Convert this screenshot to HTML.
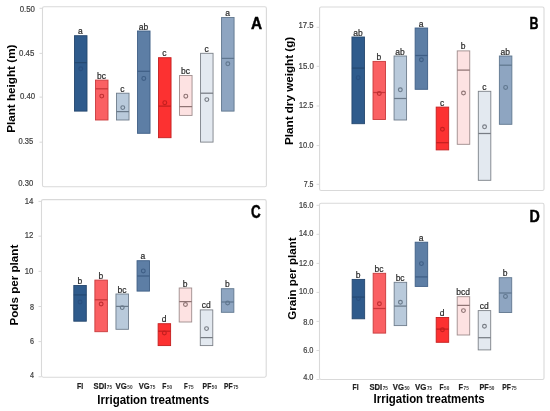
<!DOCTYPE html><html><head><meta charset="utf-8"><style>html,body{margin:0;padding:0;background:#fff;width:550px;height:411px;overflow:hidden}svg{display:block;filter:blur(0.3px)}text{font-family:"Liberation Sans", sans-serif}</style></head><body>
<svg width="550" height="411" viewBox="0 0 550 411">
<rect width="550" height="411" fill="#fff"/>
<g>
<rect x="42.5" y="6.8" width="223.9" height="180" rx="1.6" fill="none" stroke="#d9d9d9" stroke-width="1.1"/>
<line x1="39.5" x2="42.5" y1="8.3" y2="8.3" stroke="#d9d9d9" stroke-width="1"/>
<text x="19.65" y="12.25" font-size="8.8" fill="#3f3f3f" stroke="#3f3f3f" stroke-width="0.22" textLength="15.2" lengthAdjust="spacingAndGlyphs">0.50</text>
<line x1="39.5" x2="42.5" y1="53.4" y2="53.4" stroke="#d9d9d9" stroke-width="1"/>
<text x="19.05" y="55.85" font-size="8.8" fill="#3f3f3f" stroke="#3f3f3f" stroke-width="0.22" textLength="15.3" lengthAdjust="spacingAndGlyphs">0.45</text>
<line x1="39.5" x2="42.5" y1="97.1" y2="97.1" stroke="#d9d9d9" stroke-width="1"/>
<text x="19.95" y="98.75" font-size="8.8" fill="#3f3f3f" stroke="#3f3f3f" stroke-width="0.22" textLength="15.2" lengthAdjust="spacingAndGlyphs">0.40</text>
<line x1="39.5" x2="42.5" y1="142.2" y2="142.2" stroke="#d9d9d9" stroke-width="1"/>
<text x="18.55" y="144.25" font-size="8.8" fill="#3f3f3f" stroke="#3f3f3f" stroke-width="0.22" textLength="14.7" lengthAdjust="spacingAndGlyphs">0.35</text>
<text x="18.25" y="186.15" font-size="8.8" fill="#3f3f3f" stroke="#3f3f3f" stroke-width="0.22" textLength="14.9" lengthAdjust="spacingAndGlyphs">0.30</text>
<rect x="74.5" y="35.7" width="12.5" height="75.4" fill="#2f5b8c" stroke="#25476e" stroke-width="0.9"/>
<line x1="74.5" x2="87" y1="62.6" y2="62.6" stroke="#254a72" stroke-width="1.25"/>
<circle cx="80.75" cy="68.8" r="1.9" fill="none" stroke="#2a5080" stroke-width="1.15"/>
<text x="80.45" y="34.2" font-size="8.5" fill="#2a2a2a" stroke="#2a2a2a" stroke-width="0.2" text-anchor="middle">a</text>
<rect x="95.51" y="80.1" width="12.5" height="39.9" fill="#fa6063" stroke="#c93a3c" stroke-width="0.9"/>
<line x1="95.51" x2="108.01" y1="88.8" y2="88.8" stroke="#c8373a" stroke-width="1.25"/>
<circle cx="101.76" cy="96.1" r="1.9" fill="none" stroke="#c02f32" stroke-width="1.15"/>
<text x="101.46" y="78.6" font-size="8.5" fill="#2a2a2a" stroke="#2a2a2a" stroke-width="0.2" text-anchor="middle">bc</text>
<rect x="116.52" y="93.2" width="12.5" height="26.8" fill="#b9cadb" stroke="#6f7d8c" stroke-width="0.9"/>
<line x1="116.52" x2="129.02" y1="111.6" y2="111.6" stroke="#6a7a8a" stroke-width="1.25"/>
<circle cx="122.77" cy="107.6" r="1.9" fill="none" stroke="#6a7a8a" stroke-width="1.15"/>
<text x="122.47" y="91.7" font-size="8.5" fill="#2a2a2a" stroke="#2a2a2a" stroke-width="0.2" text-anchor="middle">c</text>
<rect x="137.53" y="31" width="12.5" height="102.3" fill="#5d7ea5" stroke="#3f5f86" stroke-width="0.9"/>
<line x1="137.53" x2="150.03" y1="71.3" y2="71.3" stroke="#3f5f86" stroke-width="1.25"/>
<circle cx="143.78" cy="78.4" r="1.9" fill="none" stroke="#3f5f86" stroke-width="1.15"/>
<text x="143.48" y="29.5" font-size="8.5" fill="#2a2a2a" stroke="#2a2a2a" stroke-width="0.2" text-anchor="middle">ab</text>
<rect x="158.54" y="57.7" width="12.5" height="80" fill="#fc3131" stroke="#c41f1f" stroke-width="0.9"/>
<line x1="158.54" x2="171.04" y1="106.1" y2="106.1" stroke="#c41f1f" stroke-width="1.25"/>
<circle cx="164.79" cy="102.7" r="1.9" fill="none" stroke="#c41f1f" stroke-width="1.15"/>
<text x="164.49" y="56.2" font-size="8.5" fill="#2a2a2a" stroke="#2a2a2a" stroke-width="0.2" text-anchor="middle">c</text>
<rect x="179.55" y="75.5" width="12.5" height="39.9" fill="#fde2e2" stroke="#9e8c8c" stroke-width="0.9"/>
<line x1="179.55" x2="192.05" y1="106.6" y2="106.6" stroke="#8f7474" stroke-width="1.25"/>
<circle cx="185.8" cy="96.2" r="1.9" fill="none" stroke="#8f7474" stroke-width="1.15"/>
<text x="185.5" y="74" font-size="8.5" fill="#2a2a2a" stroke="#2a2a2a" stroke-width="0.2" text-anchor="middle">bc</text>
<rect x="200.56" y="53.3" width="12.5" height="88.8" fill="#e3e9f0" stroke="#7c8188" stroke-width="0.9"/>
<line x1="200.56" x2="213.06" y1="93.2" y2="93.2" stroke="#777c84" stroke-width="1.25"/>
<circle cx="206.81" cy="99.6" r="1.9" fill="none" stroke="#777c84" stroke-width="1.15"/>
<text x="206.51" y="51.8" font-size="8.5" fill="#2a2a2a" stroke="#2a2a2a" stroke-width="0.2" text-anchor="middle">c</text>
<rect x="221.57" y="17.5" width="12.5" height="93.6" fill="#8ea5c1" stroke="#60778f" stroke-width="0.9"/>
<line x1="221.57" x2="234.07" y1="58.4" y2="58.4" stroke="#60778f" stroke-width="1.25"/>
<circle cx="227.82" cy="63.8" r="1.9" fill="none" stroke="#60778f" stroke-width="1.15"/>
<text x="227.52" y="16" font-size="8.5" fill="#2a2a2a" stroke="#2a2a2a" stroke-width="0.2" text-anchor="middle">a</text>
<text transform="translate(15.2,132.8) rotate(-90)" font-size="11.6" font-weight="bold" fill="#000" textLength="88.2" lengthAdjust="spacingAndGlyphs">Plant height (m)</text>
<text x="251" y="28.6" font-size="16.76" font-weight="bold" fill="#000" stroke="#000" stroke-width="0.45" textLength="11.1" lengthAdjust="spacingAndGlyphs">A</text>
</g>
<g>
<rect x="319.6" y="7" width="224.4" height="183.5" rx="1.6" fill="none" stroke="#d9d9d9" stroke-width="1.1"/>
<line x1="316.6" x2="319.6" y1="27.3" y2="27.3" stroke="#d9d9d9" stroke-width="1"/>
<text x="298.45" y="28.45" font-size="8.8" fill="#3f3f3f" stroke="#3f3f3f" stroke-width="0.22" textLength="15" lengthAdjust="spacingAndGlyphs">17.5</text>
<line x1="316.6" x2="319.6" y1="66.3" y2="66.3" stroke="#d9d9d9" stroke-width="1"/>
<text x="298.55" y="69.15" font-size="8.8" fill="#3f3f3f" stroke="#3f3f3f" stroke-width="0.22" textLength="15.2" lengthAdjust="spacingAndGlyphs">15.0</text>
<line x1="316.6" x2="319.6" y1="106" y2="106" stroke="#d9d9d9" stroke-width="1"/>
<text x="298.95" y="108.35" font-size="8.8" fill="#3f3f3f" stroke="#3f3f3f" stroke-width="0.22" textLength="14.5" lengthAdjust="spacingAndGlyphs">12.5</text>
<line x1="316.6" x2="319.6" y1="145.6" y2="145.6" stroke="#d9d9d9" stroke-width="1"/>
<text x="298.75" y="148.05" font-size="8.8" fill="#3f3f3f" stroke="#3f3f3f" stroke-width="0.22" textLength="14.8" lengthAdjust="spacingAndGlyphs">10.0</text>
<line x1="316.6" x2="319.6" y1="184.3" y2="184.3" stroke="#d9d9d9" stroke-width="1"/>
<text x="303.75" y="187.25" font-size="8.8" fill="#3f3f3f" stroke="#3f3f3f" stroke-width="0.22" textLength="9.7" lengthAdjust="spacingAndGlyphs">7.5</text>
<rect x="351.95" y="37" width="12.5" height="86.7" fill="#2f5b8c" stroke="#25476e" stroke-width="0.9"/>
<line x1="351.95" x2="364.45" y1="68.1" y2="68.1" stroke="#254a72" stroke-width="1.25"/>
<circle cx="358.2" cy="77.7" r="1.9" fill="none" stroke="#2a5080" stroke-width="1.15"/>
<text x="357.9" y="35.5" font-size="8.5" fill="#2a2a2a" stroke="#2a2a2a" stroke-width="0.2" text-anchor="middle">ab</text>
<rect x="373.01" y="61.4" width="12.5" height="58.1" fill="#fa6063" stroke="#c93a3c" stroke-width="0.9"/>
<line x1="373.01" x2="385.51" y1="92.5" y2="92.5" stroke="#c8373a" stroke-width="1.25"/>
<circle cx="379.26" cy="93.5" r="1.9" fill="none" stroke="#c02f32" stroke-width="1.15"/>
<text x="378.96" y="59.9" font-size="8.5" fill="#2a2a2a" stroke="#2a2a2a" stroke-width="0.2" text-anchor="middle">b</text>
<rect x="394.07" y="56" width="12.5" height="64" fill="#b9cadb" stroke="#6f7d8c" stroke-width="0.9"/>
<line x1="394.07" x2="406.57" y1="98.5" y2="98.5" stroke="#6a7a8a" stroke-width="1.25"/>
<circle cx="400.32" cy="89.8" r="1.9" fill="none" stroke="#6a7a8a" stroke-width="1.15"/>
<text x="400.02" y="54.5" font-size="8.5" fill="#2a2a2a" stroke="#2a2a2a" stroke-width="0.2" text-anchor="middle">ab</text>
<rect x="415.13" y="28" width="12.5" height="61.3" fill="#5d7ea5" stroke="#3f5f86" stroke-width="0.9"/>
<line x1="415.13" x2="427.63" y1="55.5" y2="55.5" stroke="#3f5f86" stroke-width="1.25"/>
<circle cx="421.38" cy="59.7" r="1.9" fill="none" stroke="#3f5f86" stroke-width="1.15"/>
<text x="421.08" y="26.5" font-size="8.5" fill="#2a2a2a" stroke="#2a2a2a" stroke-width="0.2" text-anchor="middle">a</text>
<rect x="436.19" y="107.1" width="12.5" height="42.8" fill="#fc3131" stroke="#c41f1f" stroke-width="0.9"/>
<line x1="436.19" x2="448.69" y1="142.7" y2="142.7" stroke="#c41f1f" stroke-width="1.25"/>
<circle cx="442.44" cy="129.2" r="1.9" fill="none" stroke="#c41f1f" stroke-width="1.15"/>
<text x="442.14" y="105.6" font-size="8.5" fill="#2a2a2a" stroke="#2a2a2a" stroke-width="0.2" text-anchor="middle">c</text>
<rect x="457.25" y="50.9" width="12.5" height="93.4" fill="#fde2e2" stroke="#9e8c8c" stroke-width="0.9"/>
<line x1="457.25" x2="469.75" y1="70.1" y2="70.1" stroke="#8f7474" stroke-width="1.25"/>
<circle cx="463.5" cy="93" r="1.9" fill="none" stroke="#8f7474" stroke-width="1.15"/>
<text x="463.2" y="49.4" font-size="8.5" fill="#2a2a2a" stroke="#2a2a2a" stroke-width="0.2" text-anchor="middle">b</text>
<rect x="478.31" y="91.3" width="12.5" height="89" fill="#e3e9f0" stroke="#7c8188" stroke-width="0.9"/>
<line x1="478.31" x2="490.81" y1="133.5" y2="133.5" stroke="#777c84" stroke-width="1.25"/>
<circle cx="484.56" cy="126.8" r="1.9" fill="none" stroke="#777c84" stroke-width="1.15"/>
<text x="484.26" y="89.8" font-size="8.5" fill="#2a2a2a" stroke="#2a2a2a" stroke-width="0.2" text-anchor="middle">c</text>
<rect x="499.37" y="56" width="12.5" height="68.3" fill="#8ea5c1" stroke="#60778f" stroke-width="0.9"/>
<line x1="499.37" x2="511.87" y1="65.2" y2="65.2" stroke="#60778f" stroke-width="1.25"/>
<circle cx="505.62" cy="87.4" r="1.9" fill="none" stroke="#60778f" stroke-width="1.15"/>
<text x="505.32" y="54.5" font-size="8.5" fill="#2a2a2a" stroke="#2a2a2a" stroke-width="0.2" text-anchor="middle">ab</text>
<text transform="translate(292.9,145) rotate(-90)" font-size="11.6" font-weight="bold" fill="#000" textLength="108.2" lengthAdjust="spacingAndGlyphs">Plant dry weight (g)</text>
<text x="529.5" y="28.8" font-size="17.04" font-weight="bold" fill="#000" stroke="#000" stroke-width="0.45" textLength="9" lengthAdjust="spacingAndGlyphs">B</text>
</g>
<g>
<rect x="41.5" y="199.6" width="224.7" height="177.6" rx="1.6" fill="none" stroke="#d9d9d9" stroke-width="1.1"/>
<line x1="38.5" x2="41.5" y1="201.4" y2="201.4" stroke="#d9d9d9" stroke-width="1"/>
<text x="24.65" y="203.55" font-size="8.8" fill="#3f3f3f" stroke="#3f3f3f" stroke-width="0.22" textLength="8.7" lengthAdjust="spacingAndGlyphs">14</text>
<line x1="38.5" x2="41.5" y1="236.2" y2="236.2" stroke="#d9d9d9" stroke-width="1"/>
<text x="24.65" y="238.25" font-size="8.8" fill="#3f3f3f" stroke="#3f3f3f" stroke-width="0.22" textLength="8.7" lengthAdjust="spacingAndGlyphs">12</text>
<line x1="38.5" x2="41.5" y1="271.3" y2="271.3" stroke="#d9d9d9" stroke-width="1"/>
<text x="24.65" y="273.55" font-size="8.8" fill="#3f3f3f" stroke="#3f3f3f" stroke-width="0.22" textLength="8.7" lengthAdjust="spacingAndGlyphs">10</text>
<line x1="38.5" x2="41.5" y1="306.5" y2="306.5" stroke="#d9d9d9" stroke-width="1"/>
<text x="30.05" y="310.15" font-size="8.8" fill="#3f3f3f" stroke="#3f3f3f" stroke-width="0.22" textLength="4" lengthAdjust="spacingAndGlyphs">8</text>
<line x1="38.5" x2="41.5" y1="341.6" y2="341.6" stroke="#d9d9d9" stroke-width="1"/>
<text x="30.05" y="343.55" font-size="8.8" fill="#3f3f3f" stroke="#3f3f3f" stroke-width="0.22" textLength="4" lengthAdjust="spacingAndGlyphs">6</text>
<line x1="38.5" x2="41.5" y1="376.8" y2="376.8" stroke="#d9d9d9" stroke-width="1"/>
<text x="30.05" y="377.85" font-size="8.8" fill="#3f3f3f" stroke="#3f3f3f" stroke-width="0.22" textLength="4" lengthAdjust="spacingAndGlyphs">4</text>
<rect x="73.8" y="285.5" width="12.5" height="35.7" fill="#2f5b8c" stroke="#25476e" stroke-width="0.9"/>
<line x1="73.8" x2="86.3" y1="294.9" y2="294.9" stroke="#254a72" stroke-width="1.25"/>
<circle cx="80.05" cy="302" r="1.9" fill="none" stroke="#2a5080" stroke-width="1.15"/>
<text x="79.75" y="284" font-size="8.5" fill="#2a2a2a" stroke="#2a2a2a" stroke-width="0.2" text-anchor="middle">b</text>
<rect x="94.88" y="280.1" width="12.5" height="51.6" fill="#fa6063" stroke="#c93a3c" stroke-width="0.9"/>
<line x1="94.88" x2="107.38" y1="299.8" y2="299.8" stroke="#c8373a" stroke-width="1.25"/>
<circle cx="101.13" cy="304" r="1.9" fill="none" stroke="#c02f32" stroke-width="1.15"/>
<text x="100.83" y="278.6" font-size="8.5" fill="#2a2a2a" stroke="#2a2a2a" stroke-width="0.2" text-anchor="middle">b</text>
<rect x="115.96" y="294" width="12.5" height="35.3" fill="#b9cadb" stroke="#6f7d8c" stroke-width="0.9"/>
<line x1="115.96" x2="128.46" y1="306.4" y2="306.4" stroke="#6a7a8a" stroke-width="1.25"/>
<circle cx="122.21" cy="307.6" r="1.9" fill="none" stroke="#6a7a8a" stroke-width="1.15"/>
<text x="121.91" y="292.5" font-size="8.5" fill="#2a2a2a" stroke="#2a2a2a" stroke-width="0.2" text-anchor="middle">bc</text>
<rect x="137.04" y="260.7" width="12.5" height="30.4" fill="#5d7ea5" stroke="#3f5f86" stroke-width="0.9"/>
<line x1="137.04" x2="149.54" y1="276" y2="276" stroke="#3f5f86" stroke-width="1.25"/>
<circle cx="143.29" cy="270.9" r="1.9" fill="none" stroke="#3f5f86" stroke-width="1.15"/>
<text x="142.99" y="259.2" font-size="8.5" fill="#2a2a2a" stroke="#2a2a2a" stroke-width="0.2" text-anchor="middle">a</text>
<rect x="158.12" y="323.7" width="12.5" height="21.9" fill="#fc3131" stroke="#c41f1f" stroke-width="0.9"/>
<line x1="158.12" x2="170.62" y1="331.2" y2="331.2" stroke="#c41f1f" stroke-width="1.25"/>
<circle cx="164.37" cy="333" r="1.9" fill="none" stroke="#c41f1f" stroke-width="1.15"/>
<text x="164.07" y="322.2" font-size="8.5" fill="#2a2a2a" stroke="#2a2a2a" stroke-width="0.2" text-anchor="middle">d</text>
<rect x="179.2" y="288" width="12.5" height="34" fill="#fde2e2" stroke="#9e8c8c" stroke-width="0.9"/>
<line x1="179.2" x2="191.7" y1="301.6" y2="301.6" stroke="#8f7474" stroke-width="1.25"/>
<circle cx="185.45" cy="304.5" r="1.9" fill="none" stroke="#8f7474" stroke-width="1.15"/>
<text x="185.15" y="286.5" font-size="8.5" fill="#2a2a2a" stroke="#2a2a2a" stroke-width="0.2" text-anchor="middle">b</text>
<rect x="200.28" y="309.9" width="12.5" height="35.7" fill="#e3e9f0" stroke="#7c8188" stroke-width="0.9"/>
<line x1="200.28" x2="212.78" y1="337.6" y2="337.6" stroke="#777c84" stroke-width="1.25"/>
<circle cx="206.53" cy="328.6" r="1.9" fill="none" stroke="#777c84" stroke-width="1.15"/>
<text x="206.23" y="308.4" font-size="8.5" fill="#2a2a2a" stroke="#2a2a2a" stroke-width="0.2" text-anchor="middle">cd</text>
<rect x="221.36" y="288.7" width="12.5" height="23.6" fill="#8ea5c1" stroke="#60778f" stroke-width="0.9"/>
<line x1="221.36" x2="233.86" y1="302" y2="302" stroke="#60778f" stroke-width="1.25"/>
<circle cx="227.61" cy="303" r="1.9" fill="none" stroke="#60778f" stroke-width="1.15"/>
<text x="227.31" y="287.2" font-size="8.5" fill="#2a2a2a" stroke="#2a2a2a" stroke-width="0.2" text-anchor="middle">b</text>
<text transform="translate(18.1,325.5) rotate(-90)" font-size="11.6" font-weight="bold" fill="#000" textLength="80.8" lengthAdjust="spacingAndGlyphs">Pods per plant</text>
<text x="251.1" y="217.7" font-size="17.74" font-weight="bold" fill="#000" stroke="#000" stroke-width="0.45" textLength="9.7" lengthAdjust="spacingAndGlyphs">C</text>
<text x="76.9" y="389.2" font-size="8.2" font-weight="bold" fill="#222" stroke="#222" stroke-width="0.2" textLength="6.2" lengthAdjust="spacingAndGlyphs">FI</text>
<text x="93.6" y="389.2" font-size="8.2" font-weight="bold" fill="#222" stroke="#222" stroke-width="0.2" textLength="12.7" lengthAdjust="spacingAndGlyphs">SDI</text>
<text x="106.8" y="389.2" font-size="5.4" font-weight="bold" fill="#333" textLength="5.2" lengthAdjust="spacingAndGlyphs">75</text>
<text x="115.5" y="389.2" font-size="8.2" font-weight="bold" fill="#222" stroke="#222" stroke-width="0.2" textLength="11.3" lengthAdjust="spacingAndGlyphs">VG</text>
<text x="127.3" y="389.2" font-size="5.4" font-weight="bold" fill="#333" textLength="5.2" lengthAdjust="spacingAndGlyphs">50</text>
<text x="138.7" y="389.2" font-size="8.2" font-weight="bold" fill="#222" stroke="#222" stroke-width="0.2" textLength="10.9" lengthAdjust="spacingAndGlyphs">VG</text>
<text x="150.1" y="389.2" font-size="5.4" font-weight="bold" fill="#333" textLength="5.2" lengthAdjust="spacingAndGlyphs">75</text>
<text x="162.3" y="389.2" font-size="8.2" font-weight="bold" fill="#222" stroke="#222" stroke-width="0.2" textLength="4.1" lengthAdjust="spacingAndGlyphs">F</text>
<text x="166.9" y="389.2" font-size="5.4" font-weight="bold" fill="#333" textLength="5.2" lengthAdjust="spacingAndGlyphs">50</text>
<text x="184.1" y="389.2" font-size="8.2" font-weight="bold" fill="#222" stroke="#222" stroke-width="0.2" textLength="3.7" lengthAdjust="spacingAndGlyphs">F</text>
<text x="188.3" y="389.2" font-size="5.4" font-weight="bold" fill="#333" textLength="5.2" lengthAdjust="spacingAndGlyphs">75</text>
<text x="202.6" y="389.2" font-size="8.2" font-weight="bold" fill="#222" stroke="#222" stroke-width="0.2" textLength="8.7" lengthAdjust="spacingAndGlyphs">PF</text>
<text x="211.8" y="389.2" font-size="5.4" font-weight="bold" fill="#333" textLength="5.2" lengthAdjust="spacingAndGlyphs">50</text>
<text x="224.1" y="389.2" font-size="8.2" font-weight="bold" fill="#222" stroke="#222" stroke-width="0.2" textLength="8.6" lengthAdjust="spacingAndGlyphs">PF</text>
<text x="233.2" y="389.2" font-size="5.4" font-weight="bold" fill="#333" textLength="5.2" lengthAdjust="spacingAndGlyphs">75</text>
<text x="97.3" y="403.6" font-size="12.4" font-weight="bold" fill="#000" textLength="111.8" lengthAdjust="spacingAndGlyphs">Irrigation treatments</text>
</g>
<g>
<rect x="319.5" y="203.3" width="224.5" height="176.2" rx="1.6" fill="none" stroke="#d9d9d9" stroke-width="1.1"/>
<line x1="316.5" x2="319.5" y1="205.3" y2="205.3" stroke="#d9d9d9" stroke-width="1"/>
<text x="298.95" y="208.45" font-size="8.8" fill="#3f3f3f" stroke="#3f3f3f" stroke-width="0.22" textLength="14.5" lengthAdjust="spacingAndGlyphs">16.0</text>
<line x1="316.5" x2="319.5" y1="234.3" y2="234.3" stroke="#d9d9d9" stroke-width="1"/>
<text x="298.95" y="235.95" font-size="8.8" fill="#3f3f3f" stroke="#3f3f3f" stroke-width="0.22" textLength="14.5" lengthAdjust="spacingAndGlyphs">14.0</text>
<line x1="316.5" x2="319.5" y1="263.4" y2="263.4" stroke="#d9d9d9" stroke-width="1"/>
<text x="298.95" y="265.65" font-size="8.8" fill="#3f3f3f" stroke="#3f3f3f" stroke-width="0.22" textLength="14.5" lengthAdjust="spacingAndGlyphs">12.0</text>
<line x1="316.5" x2="319.5" y1="292.4" y2="292.4" stroke="#d9d9d9" stroke-width="1"/>
<text x="298.95" y="294.35" font-size="8.8" fill="#3f3f3f" stroke="#3f3f3f" stroke-width="0.22" textLength="14.5" lengthAdjust="spacingAndGlyphs">10.0</text>
<line x1="316.5" x2="319.5" y1="321.4" y2="321.4" stroke="#d9d9d9" stroke-width="1"/>
<text x="303.15" y="324.75" font-size="8.8" fill="#3f3f3f" stroke="#3f3f3f" stroke-width="0.22" textLength="10.3" lengthAdjust="spacingAndGlyphs">8.0</text>
<line x1="316.5" x2="319.5" y1="350.5" y2="350.5" stroke="#d9d9d9" stroke-width="1"/>
<text x="303.15" y="352.75" font-size="8.8" fill="#3f3f3f" stroke="#3f3f3f" stroke-width="0.22" textLength="10.3" lengthAdjust="spacingAndGlyphs">6.0</text>
<line x1="316.5" x2="319.5" y1="379.5" y2="379.5" stroke="#d9d9d9" stroke-width="1"/>
<text x="303.15" y="379.55" font-size="8.8" fill="#3f3f3f" stroke="#3f3f3f" stroke-width="0.22" textLength="10.3" lengthAdjust="spacingAndGlyphs">4.0</text>
<rect x="352.15" y="279.4" width="12.5" height="39.4" fill="#2f5b8c" stroke="#25476e" stroke-width="0.9"/>
<line x1="352.15" x2="364.65" y1="297.1" y2="297.1" stroke="#254a72" stroke-width="1.25"/>
<circle cx="358.4" cy="298.6" r="1.9" fill="none" stroke="#2a5080" stroke-width="1.15"/>
<text x="358.1" y="277.9" font-size="8.5" fill="#2a2a2a" stroke="#2a2a2a" stroke-width="0.2" text-anchor="middle">b</text>
<rect x="373.16" y="273.3" width="12.5" height="59.8" fill="#fa6063" stroke="#c93a3c" stroke-width="0.9"/>
<line x1="373.16" x2="385.66" y1="308.5" y2="308.5" stroke="#c8373a" stroke-width="1.25"/>
<circle cx="379.41" cy="303.7" r="1.9" fill="none" stroke="#c02f32" stroke-width="1.15"/>
<text x="379.11" y="271.8" font-size="8.5" fill="#2a2a2a" stroke="#2a2a2a" stroke-width="0.2" text-anchor="middle">bc</text>
<rect x="394.17" y="282.3" width="12.5" height="43.3" fill="#b9cadb" stroke="#6f7d8c" stroke-width="0.9"/>
<line x1="394.17" x2="406.67" y1="306.1" y2="306.1" stroke="#6a7a8a" stroke-width="1.25"/>
<circle cx="400.42" cy="302.3" r="1.9" fill="none" stroke="#6a7a8a" stroke-width="1.15"/>
<text x="400.12" y="280.8" font-size="8.5" fill="#2a2a2a" stroke="#2a2a2a" stroke-width="0.2" text-anchor="middle">bc</text>
<rect x="415.18" y="242.2" width="12.5" height="44.2" fill="#5d7ea5" stroke="#3f5f86" stroke-width="0.9"/>
<line x1="415.18" x2="427.68" y1="276.9" y2="276.9" stroke="#3f5f86" stroke-width="1.25"/>
<circle cx="421.43" cy="263.6" r="1.9" fill="none" stroke="#3f5f86" stroke-width="1.15"/>
<text x="421.13" y="240.7" font-size="8.5" fill="#2a2a2a" stroke="#2a2a2a" stroke-width="0.2" text-anchor="middle">a</text>
<rect x="436.19" y="317.5" width="12.5" height="24.8" fill="#fc3131" stroke="#c41f1f" stroke-width="0.9"/>
<line x1="436.19" x2="448.69" y1="329.1" y2="329.1" stroke="#c41f1f" stroke-width="1.25"/>
<circle cx="442.44" cy="329.7" r="1.9" fill="none" stroke="#c41f1f" stroke-width="1.15"/>
<text x="442.14" y="316" font-size="8.5" fill="#2a2a2a" stroke="#2a2a2a" stroke-width="0.2" text-anchor="middle">d</text>
<rect x="457.2" y="296.7" width="12.5" height="38.3" fill="#fde2e2" stroke="#9e8c8c" stroke-width="0.9"/>
<line x1="457.2" x2="469.7" y1="305.4" y2="305.4" stroke="#8f7474" stroke-width="1.25"/>
<circle cx="463.45" cy="310.6" r="1.9" fill="none" stroke="#8f7474" stroke-width="1.15"/>
<text x="463.15" y="295.2" font-size="8.5" fill="#2a2a2a" stroke="#2a2a2a" stroke-width="0.2" text-anchor="middle">bcd</text>
<rect x="478.21" y="310.6" width="12.5" height="39.3" fill="#e3e9f0" stroke="#7c8188" stroke-width="0.9"/>
<line x1="478.21" x2="490.71" y1="337.7" y2="337.7" stroke="#777c84" stroke-width="1.25"/>
<circle cx="484.46" cy="326.3" r="1.9" fill="none" stroke="#777c84" stroke-width="1.15"/>
<text x="484.16" y="309.1" font-size="8.5" fill="#2a2a2a" stroke="#2a2a2a" stroke-width="0.2" text-anchor="middle">cd</text>
<rect x="499.22" y="277.7" width="12.5" height="34.8" fill="#8ea5c1" stroke="#60778f" stroke-width="0.9"/>
<line x1="499.22" x2="511.72" y1="293" y2="293" stroke="#60778f" stroke-width="1.25"/>
<circle cx="505.47" cy="296.4" r="1.9" fill="none" stroke="#60778f" stroke-width="1.15"/>
<text x="505.17" y="276.2" font-size="8.5" fill="#2a2a2a" stroke="#2a2a2a" stroke-width="0.2" text-anchor="middle">b</text>
<text transform="translate(295.6,319.7) rotate(-90)" font-size="11.6" font-weight="bold" fill="#000" textLength="82.3" lengthAdjust="spacingAndGlyphs">Grain per plant</text>
<text x="529.4" y="221.8" font-size="15.78" font-weight="bold" fill="#000" stroke="#000" stroke-width="0.45" textLength="10.3" lengthAdjust="spacingAndGlyphs">D</text>
<text x="352.6" y="389.8" font-size="8.2" font-weight="bold" fill="#222" stroke="#222" stroke-width="0.2" textLength="6" lengthAdjust="spacingAndGlyphs">FI</text>
<text x="369.5" y="389.8" font-size="8.2" font-weight="bold" fill="#222" stroke="#222" stroke-width="0.2" textLength="12.7" lengthAdjust="spacingAndGlyphs">SDI</text>
<text x="382.7" y="389.8" font-size="5.4" font-weight="bold" fill="#333" textLength="5.2" lengthAdjust="spacingAndGlyphs">75</text>
<text x="392.8" y="389.8" font-size="8.2" font-weight="bold" fill="#222" stroke="#222" stroke-width="0.2" textLength="11.2" lengthAdjust="spacingAndGlyphs">VG</text>
<text x="404.5" y="389.8" font-size="5.4" font-weight="bold" fill="#333" textLength="5.2" lengthAdjust="spacingAndGlyphs">50</text>
<text x="415" y="389.8" font-size="8.2" font-weight="bold" fill="#222" stroke="#222" stroke-width="0.2" textLength="11.4" lengthAdjust="spacingAndGlyphs">VG</text>
<text x="426.9" y="389.8" font-size="5.4" font-weight="bold" fill="#333" textLength="5.2" lengthAdjust="spacingAndGlyphs">75</text>
<text x="439.5" y="389.8" font-size="8.2" font-weight="bold" fill="#222" stroke="#222" stroke-width="0.2" textLength="4.1" lengthAdjust="spacingAndGlyphs">F</text>
<text x="444.1" y="389.8" font-size="5.4" font-weight="bold" fill="#333" textLength="5.2" lengthAdjust="spacingAndGlyphs">50</text>
<text x="458.6" y="389.8" font-size="8.2" font-weight="bold" fill="#222" stroke="#222" stroke-width="0.2" textLength="4.5" lengthAdjust="spacingAndGlyphs">F</text>
<text x="463.6" y="389.8" font-size="5.4" font-weight="bold" fill="#333" textLength="5.2" lengthAdjust="spacingAndGlyphs">75</text>
<text x="479.5" y="389.8" font-size="8.2" font-weight="bold" fill="#222" stroke="#222" stroke-width="0.2" textLength="9.2" lengthAdjust="spacingAndGlyphs">PF</text>
<text x="489.2" y="389.8" font-size="5.4" font-weight="bold" fill="#333" textLength="5.2" lengthAdjust="spacingAndGlyphs">50</text>
<text x="502.3" y="389.8" font-size="8.2" font-weight="bold" fill="#222" stroke="#222" stroke-width="0.2" textLength="8.6" lengthAdjust="spacingAndGlyphs">PF</text>
<text x="511.4" y="389.8" font-size="5.4" font-weight="bold" fill="#333" textLength="5.2" lengthAdjust="spacingAndGlyphs">75</text>
<text x="373.6" y="402.7" font-size="12.4" font-weight="bold" fill="#000" textLength="111.1" lengthAdjust="spacingAndGlyphs">Irrigation treatments</text>
</g>
</svg></body></html>
